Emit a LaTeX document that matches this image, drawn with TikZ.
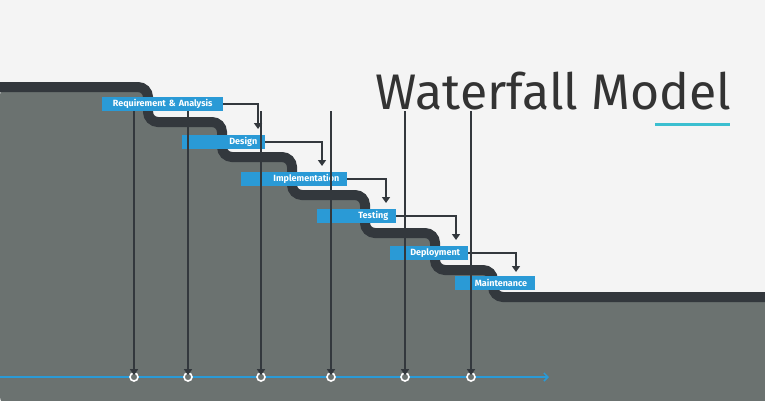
\documentclass[tikz,border=0pt]{standalone}
\usepackage{fontspec}
\setmainfont{Fira Sans}
\usetikzlibrary{arrows.meta}
\definecolor{bg}{HTML}{F4F4F4}
\definecolor{fillg}{HTML}{6B7270}
\definecolor{band}{HTML}{33383D}
\definecolor{blu}{HTML}{2A9AD6}
\definecolor{teal}{HTML}{3BBFD0}
\definecolor{ttl}{HTML}{333333}
\tikzset{
 phase/.style={fill=blu,text=white,font=\bfseries\fontsize{9}{10}\selectfont,inner sep=0pt,minimum height=14pt,anchor=north west,align=right},
 flow/.style={draw=band,line width=1.5pt,-{Triangle[length=6pt,width=8pt]}},
 drop/.style={draw=band,line width=1.2pt,-{Triangle[length=6pt,width=8pt]}},
 dot/.style={circle,draw=white,line width=1.6pt,fill=fillg,minimum size=8pt,inner sep=0pt},
}
\begin{document}
\begin{tikzpicture}[x=1pt,y=-1pt]
\useasboundingbox (0,0) rectangle (765,400);
\fill[bg] (0,0) rectangle (765,400);
% gray fill
\fill[fillg,rounded corners=8pt] (0,87) -- (148,87) -- (148,122) -- (222,122) -- (222,157) -- (292,157) -- (292,195) -- (365,195) -- (365,233) -- (435,233) -- (435,270) -- (493,270) -- (493,297) -- (770,297) -- (770,405) -- (0,405) -- cycle;
\draw[band,line width=10pt,rounded corners=10pt] (-5,87) -- (148,87) -- (148,122) -- (222,122) -- (222,157) -- (292,157) -- (292,195) -- (365,195) -- (365,233) -- (435,233) -- (435,270) -- (493,270) -- (493,297) -- (770,297);
% title
\node[anchor=east,text=ttl,font=\fontsize{50}{55}\selectfont] (title) at (735,91) {Waterfall Model};
\draw[teal,line width=3pt] (655,124) -- (730,124);
% phases
\node[phase,text width=121pt,align=center] (p1) at (102,97) {Requirement \& Analysis};
\node[phase,text width=83pt] (p2) at (182,135) {Design\rule{8pt}{0pt}};
\node[phase,text width=106pt] (p3) at (241,172) {Implementation\rule{8pt}{0pt}};
\node[phase,text width=79pt] (p4) at (317,209) {Testing\rule{8pt}{0pt}};
\node[phase,text width=78pt] (p5) at (390,246) {Deployment\rule{8pt}{0pt}};
\node[phase,text width=80pt] (p6) at (455,276) {Maintenance\rule{8pt}{0pt}};
% connectors between phases
\coordinate (a1) at (258,129);
\coordinate (a2) at (322,166);
\coordinate (a3) at (386,203);
\coordinate (a4) at (456,240);
\coordinate (a5) at (516,272);
\draw[flow] (p1.east) -| (a1);
\draw[flow] (p2.east) -| (a2);
\draw[flow] (p3.east) -| (a3);
\draw[flow] (p4.east) -| (a4);
\draw[flow] (p5.east) -| (a5);
% timeline
\coordinate (t0) at (0,377);
\coordinate (t1) at (549,377);
\draw[blu,line width=1.5pt,-{Straight Barb[length=4pt,width=8pt]}] (t0) -- (t1);
\foreach \i/\x in {1/134,2/188,3/261,4/331,5/405,6/471}{
  \node[dot] (d\i) at (\x,377) {};
  \draw[drop] (\x,111) -- ([yshift=-3pt]d\i.north);
}
\end{tikzpicture}
\end{document}
